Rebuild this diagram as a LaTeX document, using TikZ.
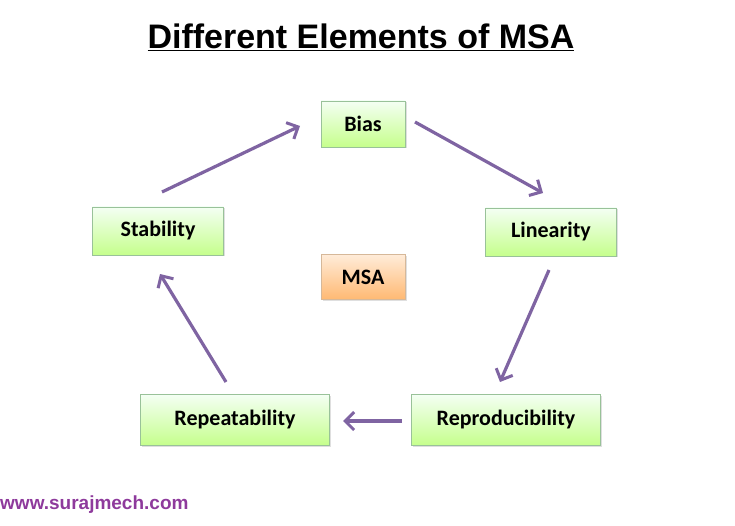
\documentclass[tikz,border=0pt]{standalone}
\usepackage{fontspec}
\setmainfont{Liberation Sans}
\newfontfamily\boxfont{Carlito}
\usetikzlibrary{arrows.meta,shadows}
\definecolor{arr}{HTML}{7F64A2}
\definecolor{web}{HTML}{8E3A9C}
\tikzset{
  gbox/.style={draw=green!40!black!40,top color=white!70!green!15,bottom color=green!50!yellow!45,drop shadow={opacity=0.25,shadow xshift=1.5pt,shadow yshift=-1.5pt},font=\boxfont\bfseries\fontsize{22}{26}\selectfont,inner sep=0pt,line width=0.6pt},
  obox/.style={gbox,draw=orange!60!black!40,top color=orange!15,bottom color=orange!55},
  flow/.style={draw=arr,line width=3.2pt,-{Straight Barb[length=9pt,width=18pt,line width=3pt]}}
}
\begin{document}
\begin{tikzpicture}[x=1pt,y=-1pt]
\useasboundingbox (0,0) rectangle (735,526);
\node[font=\bfseries\fontsize{34}{38}\selectfont] (title) at (361,37) {\underline{Different Elements of MSA}};
\node[gbox,minimum width=84pt,minimum height=46pt] (bias) at (363,124) {Bias};
\node[gbox,minimum width=131pt,minimum height=48pt] (stab) at (158,231) {Stability};
\node[gbox,minimum width=131pt,minimum height=48pt] (lin) at (551,232) {Linearity};
\node[obox,minimum width=84pt,minimum height=45pt] (msa) at (363,277) {MSA};
\node[gbox,minimum width=189pt,minimum height=51pt] (rep) at (235,420) {Repeatability};
\node[gbox,minimum width=189pt,minimum height=51pt] (repro) at (506,420) {Reproducibility};
\node[font=\bfseries\fontsize{19}{22}\selectfont,text=web,anchor=west,inner sep=0pt] (web) at (0,505) {www.surajmech.com};
\coordinate (a1) at (162,192); \coordinate (b1) at (300,126);
\coordinate (a2) at (415,122); \coordinate (b2) at (543,193);
\coordinate (a3) at (549,270); \coordinate (b3) at (500,382);
\coordinate (a4) at (402,421); \coordinate (b4) at (343,421);
\coordinate (a5) at (226,382); \coordinate (b5) at (160,274);
\draw[flow] (a1) -- (b1);
\draw[flow] (a2) -- (b2);
\draw[flow] (a3) -- (b3);
\draw[flow] (a4) -- (b4);
\draw[flow] (a5) -- (b5);
\end{tikzpicture}
\end{document}
